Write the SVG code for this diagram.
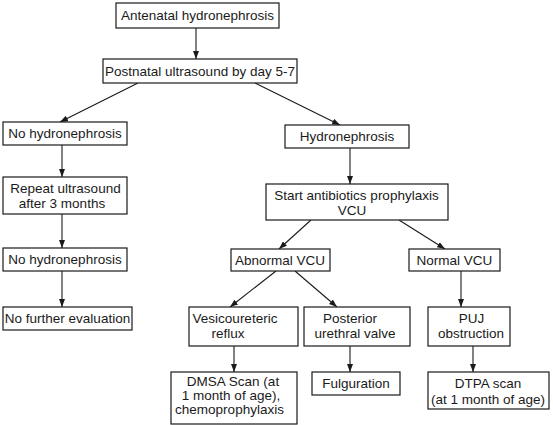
<svg xmlns="http://www.w3.org/2000/svg" width="553" height="425" viewBox="0 0 553 425">
<defs>
<marker id="ah" markerUnits="userSpaceOnUse" markerWidth="8" markerHeight="6" refX="8" refY="3" orient="auto">
<path d="M0,0 L8,3 L0,6 z" fill="#1a1a1a"/>
</marker>
<style>
.b{fill:#fff;stroke:#1a1a1a;stroke-width:1.2}
.t{font-family:"Liberation Sans",Arial,sans-serif;font-size:13.5px;fill:#1a1a1a;text-anchor:middle}
.c{fill:none;stroke:#1a1a1a;stroke-width:1.1;marker-end:url(#ah)}
</style>
</defs>
<rect width="553" height="425" fill="#fff"/>
<g id="connectors">
<line class="c" x1="196" y1="28" x2="196" y2="59"/>
<line class="c" x1="138" y1="83" x2="60" y2="122"/>
<line class="c" x1="255" y1="83" x2="340" y2="125"/>
<line class="c" x1="62" y1="145" x2="62" y2="177"/>
<line class="c" x1="62" y1="214" x2="62" y2="248"/>
<line class="c" x1="62" y1="271" x2="62" y2="307"/>
<line class="c" x1="350" y1="148" x2="350" y2="184"/>
<line class="c" x1="311" y1="220" x2="279" y2="249"/>
<line class="c" x1="399" y1="220" x2="445" y2="249"/>
<line class="c" x1="276" y1="271" x2="230" y2="307"/>
<line class="c" x1="295" y1="271" x2="337" y2="307"/>
<line class="c" x1="461" y1="271" x2="461" y2="307"/>
<line class="c" x1="234" y1="346" x2="234" y2="372"/>
<line class="c" x1="350" y1="346" x2="350" y2="372"/>
<line class="c" x1="473" y1="346" x2="473" y2="372"/>
</g>
<g id="antenatal"><rect class="b" x="116" y="3" width="163" height="25"/><text class="t" x="197.5" y="20">Antenatal hydronephrosis</text></g>
<g id="postnatal"><rect class="b" x="103" y="59" width="194" height="24"/><text class="t" x="200" y="76">Postnatal ultrasound by day 5-7</text></g>
<g id="nohydro1"><rect class="b" x="3" y="122" width="124" height="23"/><text class="t" x="65" y="138">No hydronephrosis</text></g>
<g id="repeat"><rect class="b" x="3" y="177" width="124" height="37"/><text class="t" x="65.5" y="193">Repeat ultrasound</text><text class="t" x="62" y="208">after 3 months</text></g>
<g id="nohydro2"><rect class="b" x="3" y="248" width="124" height="23"/><text class="t" x="65" y="264">No hydronephrosis</text></g>
<g id="nofurther"><rect class="b" x="3" y="307" width="129" height="23"/><text class="t" x="67.5" y="323">No further evaluation</text></g>
<g id="hydro"><rect class="b" x="285" y="125" width="124" height="23"/><text class="t" x="347" y="141">Hydronephrosis</text></g>
<g id="start"><rect class="b" x="266" y="184" width="182" height="36"/><text class="t" x="356.5" y="199.5">Start antibiotics prophylaxis</text><text class="t" x="352" y="215">VCU</text></g>
<g id="abnormal"><rect class="b" x="231" y="249" width="99" height="22"/><text class="t" x="280" y="264.5">Abnormal VCU</text></g>
<g id="normal"><rect class="b" x="409" y="249" width="91" height="22"/><text class="t" x="454.5" y="264.5">Normal VCU</text></g>
<g id="vur"><rect class="b" x="189" y="307" width="109" height="39"/><text class="t" x="235" y="323">Vesicoureteric</text><text class="t" x="228" y="338">reflux</text></g>
<g id="puv"><rect class="b" x="304" y="307" width="106" height="39"/><text class="t" x="350" y="323">Posterior</text><text class="t" x="355" y="338">urethral valve</text></g>
<g id="puj"><rect class="b" x="428" y="307" width="82" height="39"/><text class="t" x="471.5" y="323">PUJ</text><text class="t" x="471" y="338">obstruction</text></g>
<g id="dmsa"><rect class="b" x="171" y="372" width="126" height="52"/><text class="t" x="233" y="386">DMSA Scan (at</text><text class="t" x="231" y="400">1 month of age),</text><text class="t" x="229.5" y="414">chemoprophylaxis</text></g>
<g id="fulg"><rect class="b" x="312" y="372" width="88" height="23"/><text class="t" x="356" y="388">Fulguration</text></g>
<g id="dtpa"><rect class="b" x="428" y="372" width="121" height="37"/><text class="t" x="488" y="388">DTPA scan</text><text class="t" x="488" y="403.5">(at 1 month of age)</text></g>
</svg>
